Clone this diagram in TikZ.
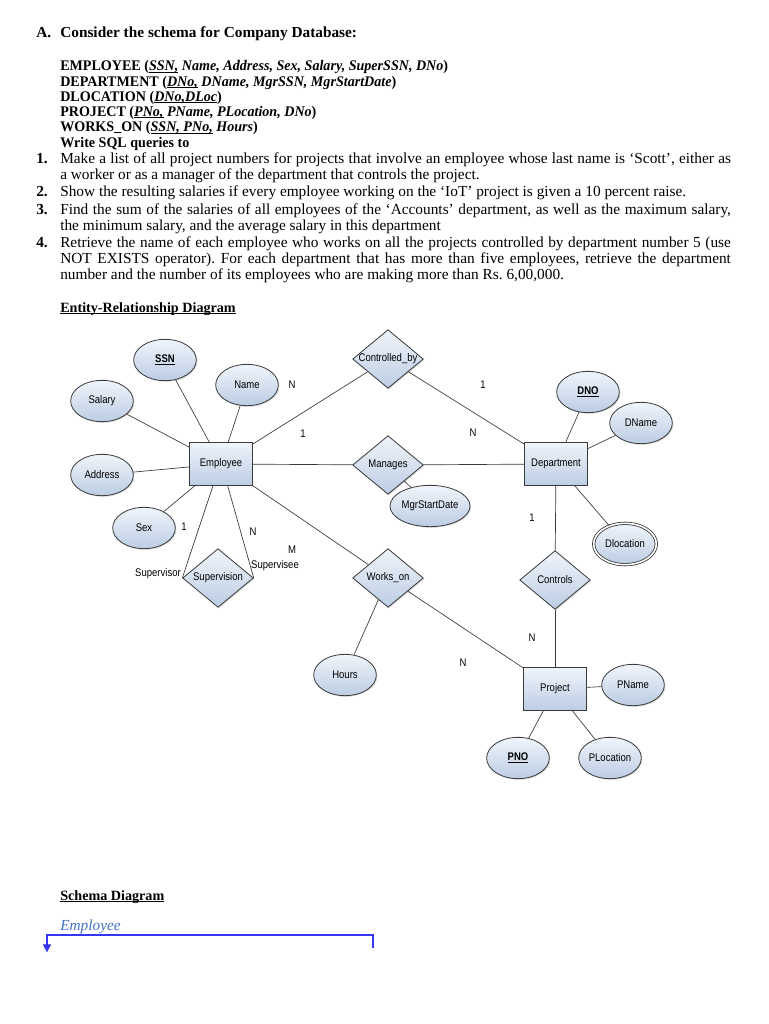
\documentclass[tikz,border=0pt]{standalone}
\usepackage{fontspec}
\setmainfont{Liberation Serif}
\newfontfamily\erfont[FakeStretch=0.86]{Liberation Sans}
\newfontfamily\schemafont[FakeStretch=0.96]{Liberation Serif}
\usetikzlibrary{arrows.meta,shapes.geometric,shadows}
\definecolor{Ink}{HTML}{111111}
\definecolor{Edge}{HTML}{3A3A3A}
\definecolor{FillLight}{HTML}{F0F4FA}
\definecolor{FillDark}{HTML}{BCCDE4}
\definecolor{Flow}{HTML}{3535F5}
\definecolor{Heading}{HTML}{4472C4}

\frenchspacing
\newcommand{\fullline}[1]{\makebox[503pt][s]{#1}}
\newcommand{\erfontsize}{\erfont\fontsize{8.3}{10}\selectfont}
\newsavebox\keybox
\newcommand{\keyline}[1]{\sbox\keybox{#1}\rlap{\rule[-1.4pt]{\wd\keybox}{0.5pt}}\usebox\keybox}

\tikzset{
  erfill/.style={draw=Edge, line width=0.6pt, top color=FillLight, bottom color=FillDark,
    drop shadow={shadow xshift=0.8pt, shadow yshift=-0.8pt, opacity=0.3}},
  entity/.style={erfill, rectangle, minimum width=47pt, minimum height=32pt, inner sep=0pt, font=\erfontsize},
  attr/.style={erfill, ellipse, minimum width=47pt, minimum height=31pt, inner sep=0pt, font=\erfontsize},
  rel/.style={erfill, diamond, minimum width=53pt, minimum height=44pt, inner sep=0pt, font=\erfontsize},
  card/.style={inner sep=0pt, font=\erfontsize},
  txt/.style={anchor=base west, inner sep=0pt, font=\fontsize{11.5}{13}\selectfont\frenchspacing},
  schema/.style={txt, font=\schemafont\fontsize{11}{13}\selectfont},
  title/.style={txt, font=\fontsize{10.6}{13}\selectfont},
  link/.style={draw=Edge, line width=0.5pt},
}

\begin{document}
\begin{tikzpicture}[x=0.75pt,y=-0.75pt,>=Latex]
  \fill[white] (0,0) rectangle (768,1024);
  \useasboundingbox (0,0) rectangle (768,1024);

  % question text
  \node[txt] (qa) at (36,38) {\textbf{A.}};
  \node[txt] (qhead) at (60,38) {\textbf{Consider the schema for Company Database:}};
  \node[schema] (semp) at (60,71) {\textbf{EMPLOYEE (\keyline{\textit{SSN,}} \textit{Name, Address, Sex, Salary, SuperSSN, DNo})}};
  \node[schema] (sdept) at (60,86) {\textbf{DEPARTMENT (\keyline{\textit{DNo,}} \textit{DName, MgrSSN, MgrStartDate})}};
  \node[schema] (sdloc) at (60,101) {\textbf{DLOCATION (\keyline{\textit{DNo,DLoc}})}};
  \node[schema] (sproj) at (60,116) {\textbf{PROJECT (\keyline{\textit{PNo,}} \textit{PName, PLocation, DNo})}};
  \node[schema] (swork) at (60,132) {\textbf{WORKS\_ON (\keyline{\textit{SSN, PNo,}} \textit{Hours})}};
  \node[schema] (sql) at (60,147) {\textbf{Write SQL queries to}};

  \node[txt] (n1) at (36,163) {\textbf{1.}};
  \node[txt] (q1a) at (60,163) {\fullline{Make a list of all project numbers for projects that involve an employee whose last name is ‘Scott’, either as}};
  \node[txt] (q1b) at (60,179) {a worker or as a manager of the department that controls the project.};
  \node[txt] (n2) at (36,196) {\textbf{2.}};
  \node[txt] (q2a) at (60,196) {Show the resulting salaries if every employee working on the ‘IoT’ project is given a 10 percent raise.};
  \node[txt] (n3) at (36,214) {\textbf{3.}};
  \node[txt] (q3a) at (60,214) {\fullline{Find the sum of the salaries of all employees of the ‘Accounts’ department, as well as the maximum salary,}};
  \node[txt] (q3b) at (60,230) {the minimum salary, and the average salary in this department};
  \node[txt] (n4) at (36,247) {\textbf{4.}};
  \node[txt] (q4a) at (60,247) {\fullline{Retrieve the name of each employee who works on all the projects controlled by department number 5 (use}};
  \node[txt] (q4b) at (60,263) {\fullline{NOT EXISTS operator). For each department that has more than five employees, retrieve the department}};
  \node[txt] (q4c) at (60,279) {number and the number of its employees who are making more than Rs. 6,00,000.};

  \node[title] (erdtitle) at (60,312) {\textbf{\keyline{Entity-Relationship Diagram}}};

  % entities
  \node[entity] (emp) at (221,464) {Employee};
  \node[entity] (dept) at (556,464) {Department};
  \node[entity] (proj) at (555,689) {Project};

  % attributes
  \node[attr] (ssn) at (165,360) {\textbf{\keyline{SSN}}};
  \node[attr] (name) at (247,385) {Name};
  \node[attr] (salary) at (102,401) {Salary};
  \node[attr] (address) at (102,475) {Address};
  \node[attr] (sex) at (144,528) {Sex};
  \node[attr] (dno) at (588,392) {\textbf{\keyline{DNO}}};
  \node[attr] (dname) at (641,423) {DName};
  \node[attr] (mgrdate) at (430,506) {MgrStartDate};
  \node[attr,double,double distance=1.2pt] (dloc) at (625,544) {Dlocation};
  \node[attr] (hours) at (345,675) {Hours};
  \node[attr] (pname) at (633,685) {PName};
  \node[attr] (pno) at (518,758) {\textbf{\keyline{PNO}}};
  \node[attr] (ploc) at (610,758) {PLocation};

  % relationships
  \node[rel] (ctrlby) at (388,359) {\makebox[0pt]{Controlled\_by}};
  \node[rel] (manages) at (388,465) {\makebox[0pt]{Manages}};
  \node[rel] (workson) at (388,578) {\makebox[0pt]{Works\_on}};
  \node[rel] (controls) at (555,580) {\makebox[0pt]{Controls}};
  \node[rel] (superv) at (218,578) {\makebox[0pt]{Supervision}};

  % connectors
  \foreach \a in {ssn,name,salary,address,sex}
    \draw[link] (\a) -- (emp);
  \foreach \a in {dno,dname,dloc}
    \draw[link] (\a) -- (dept);
  \foreach \a in {pname,pno,ploc}
    \draw[link] (\a) -- (proj);
  \draw[link] (emp) -- (ctrlby);
  \draw[link] (ctrlby) -- (dept);
  \draw[link] (emp) -- (manages);
  \draw[link] (manages) -- (dept);
  \draw[link] (manages) -- (mgrdate);
  \draw[link] (emp) -- (workson);
  \draw[link] (workson) -- (proj);
  \draw[link] (workson) -- (hours);
  \draw[link] (dept) -- (controls);
  \draw[link] (controls) -- (proj);
  \draw[link] ([xshift=-6pt]emp.south) -- (superv.west);
  \draw[link] ([xshift=5pt]emp.south) -- (superv.east);

  % cardinalities and roles
  \node[card] (c1) at (292,385) {N};
  \node[card] (c2) at (303,434) {1};
  \node[card] (c3) at (184,527) {1};
  \node[card] (c4) at (253,532) {N};
  \node[card] (c5) at (292,550) {M};
  \node[card] (c6) at (483,385) {1};
  \node[card] (c7) at (473,433) {N};
  \node[card] (c8) at (532,518) {1};
  \node[card] (c9) at (532,638) {N};
  \node[card] (c10) at (463,663) {N};
  \node[card] (rsupee) at (275,566) {Supervisee};
  \node[card,anchor=east] (rsupor) at (181,574) {Supervisor};

  % schema diagram
  \node[title] (schematitle) at (60,900) {\textbf{\keyline{Schema Diagram}}};
  \node[txt,text=Heading] (schemaemp) at (60,930) {\textit{Employee}};
  \coordinate (fkleft) at (47,935);
  \coordinate (fkright) at (373,935);
  \draw[Flow,line width=0.9pt,-{Triangle[width=6pt,length=6pt]}] ([yshift=-10pt]fkright) -- (fkright) -- (fkleft) -- ([yshift=-13pt]fkleft);
\end{tikzpicture}
\end{document}
